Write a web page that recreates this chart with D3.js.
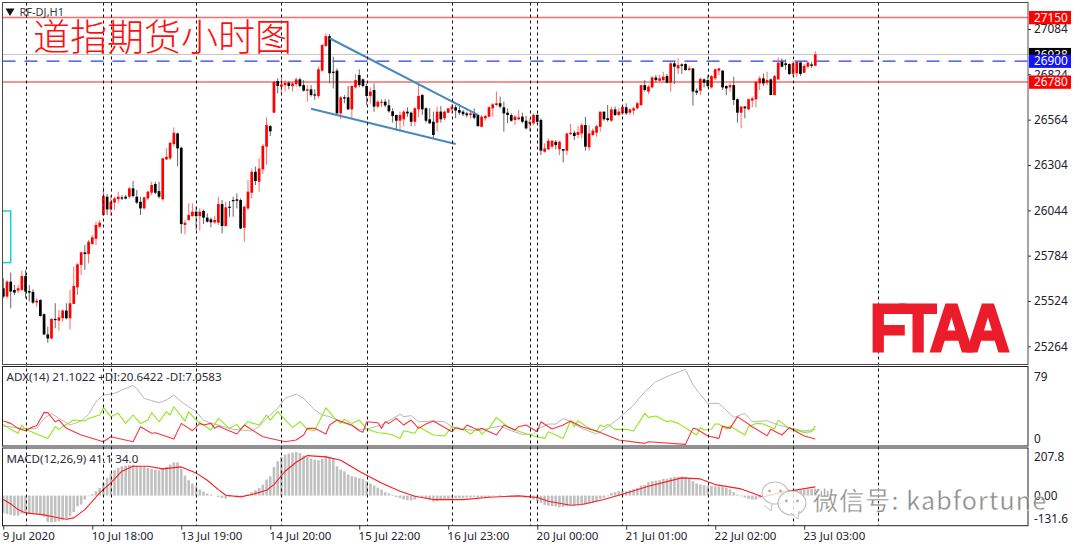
<!DOCTYPE html>
<html lang="zh">
<head>
<meta charset="utf-8">
<title>道指期货小时图</title>
<script src="https://cdn.jsdelivr.net/npm/d3@7/dist/d3.min.js"></script>
<style>
html,body{margin:0;padding:0;background:#fff;}
svg{display:block;}
text{font-family:"Noto Sans",sans-serif;}
</style>
</head>
<body>
<svg id="chart" width="1080" height="548" xmlns="http://www.w3.org/2000/svg"></svg>
<script>
// ---------- candles (prices) ----------
const opens = [25597,25549,25635,25587,25583,25587,25667,25581,25576,25515,25530,25448,25332,25309,25421,25411,25425,25469,25425,25507,25602,25731,25803,25793,25851,25881,25950,26017,26122,26049,26088,26108,26118,26122,26122,26170,26122,26093,26055,26112,26145,26195,26154,26107,26336,26342,26424,26485,26403,25960,25988,26011,26036,26011,26040,26002,25992,25975,25973,26080,25954,26065,26103,26107,26103,25944,26055,26145,26265,26208,26279,26409,26527,26604,26785,26753,26762,26776,26757,26768,26795,26762,26730,26738,26709,26700,26845,26986,27043,26839,26845,26600,26692,26692,26623,26749,26820,26795,26757,26700,26734,26639,26662,26667,26646,26612,26591,26558,26566,26610,26604,26552,26623,26705,26629,26566,26552,26547,26610,26572,26604,26623,26635,26619,26610,26600,26591,26600,26591,26523,26572,26581,26629,26648,26658,26635,26604,26591,26562,26566,26581,26558,26539,26543,26591,26562,26380,26394,26409,26437,26394,26395,26386,26481,26489,26476,26485,26533,26405,26476,26489,26523,26610,26572,26558,26623,26591,26600,26635,26604,26616,26629,26648,26762,26725,26749,26806,26787,26791,26814,26776,26887,26858,26881,26883,26849,26858,26730,26730,26795,26791,26749,26801,26845,26845,26757,26749,26762,26681,26604,26639,26623,26673,26681,26772,26801,26776,26795,26705,26795,26896,26887,26883,26826,26830,26892,26833,26868,26881,26873];
const highs = [25654,25645,25687,25616,25616,25698,25702,25616,25591,25539,25534,25453,25377,25425,25511,25473,25476,25511,25587,25721,25740,25807,25845,25874,25902,25979,25988,26179,26137,26131,26122,26151,26131,26131,26179,26212,26160,26122,26122,26156,26208,26208,26208,26345,26399,26437,26520,26489,26409,25988,26084,26084,26065,26055,26049,26027,26004,26011,26122,26103,26093,26097,26122,26141,26112,26069,26218,26284,26294,26342,26424,26577,26533,26785,26801,26810,26791,26785,26782,26806,26805,26791,26762,26762,26738,26868,26998,27059,27055,26925,26858,26700,26705,26757,26762,26826,26853,26801,26772,26749,26772,26677,26681,26681,26681,26629,26591,26610,26619,26635,26610,26635,26762,26711,26635,26629,26610,26639,26642,26616,26629,26654,26648,26654,26619,26610,26610,26629,26596,26591,26591,26642,26658,26725,26696,26667,26629,26600,26591,26619,26604,26585,26572,26600,26596,26572,26428,26457,26447,26447,26443,26395,26489,26539,26501,26527,26543,26581,26533,26514,26533,26610,26610,26648,26639,26639,26629,26648,26658,26629,26639,26667,26762,26791,26762,26814,26820,26820,26839,26826,26896,26902,26915,26887,26887,26872,26858,26743,26806,26801,26820,26820,26858,26862,26849,26762,26772,26810,26686,26642,26642,26686,26696,26785,26814,26830,26839,26801,26820,26921,26915,26910,26887,26902,26900,26896,26883,26900,26896,26957];
const lows = [25539,25539,25482,25558,25568,25583,25539,25520,25507,25488,25434,25328,25284,25304,25367,25354,25405,25419,25361,25507,25558,25673,25702,25740,25845,25845,25940,26013,26017,26011,26046,26084,26103,26107,26112,26118,26080,26017,26049,26103,26131,26137,26112,26099,26332,26332,26409,26298,25912,25906,25985,26007,25931,25927,25965,25973,25946,25965,25960,25912,25950,26007,26007,26055,25935,25864,26046,26112,26189,26151,26252,26304,26470,26600,26715,26715,26725,26738,26725,26753,26749,26725,26667,26696,26677,26686,26839,26982,26772,26743,26596,26566,26658,26619,26570,26743,26749,26749,26648,26658,26610,26629,26635,26635,26604,26547,26501,26495,26527,26581,26527,26527,26577,26591,26547,26539,26457,26495,26547,26562,26600,26600,26572,26591,26585,26577,26572,26566,26523,26520,26558,26577,26581,26642,26629,26495,26543,26552,26533,26562,26543,26508,26495,26533,26539,26361,26375,26390,26399,26394,26361,26318,26361,26476,26447,26457,26457,26386,26386,26470,26466,26495,26558,26552,26552,26585,26585,26591,26591,26591,26591,26623,26642,26725,26711,26743,26776,26776,26782,26772,26725,26768,26826,26826,26845,26845,26644,26705,26705,26749,26749,26743,26791,26820,26734,26705,26725,26648,26547,26514,26572,26619,26635,26635,26734,26757,26762,26705,26705,26791,26864,26849,26820,26810,26810,26814,26830,26858,26862,26871];
const closes = [25549,25635,25578,25572,25597,25667,25578,25572,25515,25526,25438,25332,25309,25421,25415,25430,25469,25425,25511,25610,25734,25803,25793,25864,25889,25960,25973,26126,26049,26093,26112,26122,26112,26112,26170,26126,26088,26055,26118,26151,26189,26145,26122,26342,26351,26431,26489,26399,25965,25973,26017,26036,26011,26036,26002,25979,25975,25988,26080,25954,26061,26061,26097,26099,25940,26065,26151,26265,26212,26284,26414,26533,26497,26782,26757,26766,26776,26757,26772,26795,26757,26730,26738,26705,26702,26853,26992,27043,26830,26833,26600,26692,26686,26623,26757,26791,26762,26757,26700,26725,26639,26667,26667,26646,26612,26585,26558,26591,26610,26600,26552,26629,26700,26623,26558,26543,26476,26610,26566,26610,26629,26639,26616,26604,26595,26589,26600,26575,26527,26581,26585,26635,26652,26658,26639,26600,26591,26558,26581,26577,26552,26514,26552,26591,26552,26386,26399,26443,26443,26418,26437,26386,26485,26489,26470,26493,26533,26409,26485,26501,26527,26610,26566,26562,26623,26591,26610,26639,26600,26623,26629,26658,26762,26734,26753,26806,26791,26801,26810,26776,26887,26868,26877,26873,26849,26858,26725,26719,26797,26776,26757,26814,26853,26858,26749,26743,26762,26677,26604,26639,26629,26681,26686,26782,26801,26772,26791,26705,26814,26891,26868,26877,26826,26887,26896,26826,26873,26891,26873,26938];

// ---------- price levels, separators, trend marks ----------
const priceTicks = [27084,26824,26564,26304,26044,25784,25524,25264];
const levelRed = [27150,26780];
const levelBid = 26938;
const levelBlue = 26900;
const trendUpper = [[88,27031],[128,26591]];
const trendLower = [[83,26627],[122,26424]];
const boxBars = [-2,2];
const boxPrices = [26040,25744];
const separators = [6,27,29,52,75,98,121,142,144,167,190,213,236];
const timeTickBars = [0,24,48,72,96,120,144,168,192,216];
const timeLabels = ["9 Jul 2020","10 Jul 18:00","13 Jul 19:00","14 Jul 20:00","15 Jul 22:00","16 Jul 23:00","20 Jul 00:00","21 Jul 01:00","22 Jul 02:00","23 Jul 03:00"];

// ---------- ADX(14) vertices: bar index, value ----------
const adxBars = [0,5,9,11,13,15,18,21,23,25,27,30,32,35,36,38,40,42,44,46,48,50,52,54,56,58,62,67,69,71,74,76,79,81,84,86,88,91,94,96,98,102,107,108,110,112,116,119,121,124,128,131,134,137,140,143,144,147,149,151,153,156,160,163,166,170,173,176,180,184,186,188,190,193,197,200,202,206,209,212,216,219];
const adxVals = [20.5,18.1,18.1,28.3,33.5,28.3,21.5,25.6,32.5,45.5,52.3,54,57.4,62.2,59.1,48.9,46.5,44.4,47.2,52.3,45.5,40.3,35.2,26.6,23.2,21.5,17.1,15.4,19.8,28.3,38.6,48.9,53.3,48.9,36.9,31.8,30.1,24.9,20.5,17.1,17.4,21.5,32.5,30.1,31.1,24.9,25.6,24.9,19.8,17.1,15.7,18.1,20.5,15.7,11.9,12.3,17.1,22.5,22.5,28.3,24.9,18.1,12.3,19.8,28.3,42,55.7,66,72.8,78.6,62.6,53,43.7,43.7,29.4,33.5,24.9,25.9,21.5,18.8,15.4,17.1];
const plusDiBars = [0,2,4,5,6,9,12,14,15,16,19,22,23,26,27,29,31,33,35,37,39,40,42,44,45,46,49,50,52,54,56,58,61,63,64,66,69,71,72,74,78,80,82,84,87,89,91,92,94,96,98,101,103,105,107,108,111,112,116,119,121,124,126,128,129,131,133,136,138,142,146,147,151,153,154,155,158,160,161,162,163,165,168,170,173,174,176,179,180,182,187,188,189,191,192,193,195,196,200,201,203,205,208,209,212,216,218,219];
const plusDiVals = [22.2,17.1,13,21.5,17.1,12.3,7.8,19.8,17.1,19.8,26.6,25.6,28.3,31.8,39.3,30.1,33.5,23.2,31.8,23.2,26.6,34.2,24.9,35.2,31.8,40.3,25.6,35.2,26.6,21.5,16.4,28.3,18.1,22.2,17.1,24.9,21.5,31.8,26.6,35.2,18.8,24.9,17.1,15.7,39.3,30.1,23.2,27.3,23.2,26.6,17.4,13.6,13,11.3,7.8,15.7,13,19.8,11.3,10.2,19.8,17.4,12.3,18.1,12.3,18.1,29.4,19.8,16.4,11.3,7.8,14.7,7.8,25.9,19.8,25.9,18.1,14.7,21.5,19.8,22.2,17.1,17.1,15.4,33.5,29.4,30.7,24.9,25.9,23.2,11.3,18.8,16.4,17.4,22.5,22.5,17.4,20.5,11.3,19.8,23.2,22.5,17.4,26.6,18.1,14,14.7,20.6];
const minusDiBars = [0,2,4,6,8,9,11,12,14,15,17,21,27,29,35,37,40,41,46,48,51,53,54,56,57,58,59,63,65,70,76,79,81,82,84,87,88,90,94,96,97,98,101,102,103,104,106,108,110,112,114,116,121,122,124,125,128,129,133,135,138,139,141,144,145,148,151,153,156,160,166,173,174,184,186,187,190,193,194,196,198,202,206,207,210,212,216,219];
const minusDiVals = [25.6,23.2,18.1,15.7,19.8,20.8,34.5,34.2,24.9,26.6,18.1,11.3,4.4,9.5,4.4,19.8,13,13.6,7.1,23.2,15.7,23.2,21.5,23.2,18.1,20.5,18.8,12.3,21.5,9.5,4.4,6.1,11.3,18.1,18.1,12.3,21.5,26.6,21.5,15.7,14,24.9,23.9,18.1,24.9,23.2,28.3,21.5,26.6,18.1,22.5,25.6,14.7,18.8,16.4,21.5,16.4,18.1,11.3,21.5,16.4,19.8,21.5,14.7,24.9,17.4,21.5,25.6,19.8,15.4,6.1,2.7,4.4,1.7,18.1,17.4,10.2,7.8,20.5,18.1,30.1,19.8,10.6,17.1,11.3,18.8,10.2,7.1];
const adxAxisTicks = [79,0];

// ---------- MACD(12,26,9) ----------
const macdHist = [-75.7,-80.1,-84.4,-87.4,-87.4,-78.6,-72.8,-75.7,-75.7,-78.6,-84.4,-93.2,-115,-116.5,-115,-112.1,-107.7,-99,-90.3,-72.8,-46.6,-39.3,-17.5,-2.9,5.8,18.9,33.5,55.3,77.2,96.1,110.7,120.8,128.1,131,134,134,131,128.1,125.2,120.8,116.5,113.6,110.7,119.4,125.2,135.4,145.6,145.6,116.5,87.4,67,52.4,40.8,26.2,17.5,8.7,4.4,0,-5.8,-10.2,-13.1,-5.8,0,2.9,-2.9,0,4.4,14.6,23.3,33.5,48,69.9,84.4,125.2,150,168.9,179.1,183.5,187.8,190.7,186.4,174.7,168.9,161.6,157.2,154.3,160.2,174.7,168.9,164.5,128.1,113.6,106.3,91.7,84.4,81.5,75.7,72.8,62.6,52.4,43.7,34.9,26.2,14.6,8.7,2.9,-5.8,-11.6,-17.5,-20.4,-21.8,-17.5,-2.9,-5.8,-14.6,-20.4,-26.2,-24.8,-20.4,-17.5,-14.6,-14.6,-11.6,-10.2,-11.6,-8.7,-8.7,-5.8,-8.7,-8.7,-8.7,-5.8,-2.9,0,2.9,0,-2.9,-2.9,-4.4,-1.5,-2.9,-8.7,-11.6,-17.5,-24.8,-32,-40.8,-43.7,-46.6,-48,-51,-49.5,-46.6,-43.7,-43.7,-40.8,-40.8,-39.3,-34.9,-32,-24.8,-14.6,-10.2,-2.9,11.6,14.6,20.4,20.4,18.9,23.3,29.1,33.5,43.7,46.6,58.2,62.6,65.5,67,72.8,72.8,78.6,81.5,83,83,81.5,75.7,62.6,52.4,48,45.1,43.7,42.2,40.8,39.3,37.9,33.5,26.2,14.6,4.4,-2.9,-8.7,-14.6,-17.5,-17.5,-10.2,0,7.3,8.7,-2.9,4.4,18.9,23.3,26.2,26.2,24.8,24.8,26.2,27.7,29.1,30.6];
const signalBars = [0,2,4,6,11,14,17,19,22,24,26,29,32,35,39,43,48,52,55,58,60,64,67,71,73,76,79,82,87,91,96,98,102,107,111,116,124,131,139,144,147,153,156,162,169,174,183,188,192,199,205,210,219];
const signalVals = [-17.5,-36.4,-61.2,-75.7,-84.4,-94.6,-103.4,-97.6,-61.2,-24.8,11.6,55.3,106.3,128.1,128.1,116.5,125.2,99,67,26.2,1.5,-5.8,4.4,23.3,48,106.3,145.6,174.7,168.9,154.3,106.3,88.8,55.3,18.9,-2.9,-17.5,-17.5,-7.3,-1.5,-8.7,-24.8,-42.2,-39.3,-17.5,16,40.8,77.2,72.8,48,29.1,-5.8,14.6,37.9];
const macdAxisLabels = [[207.8,"207.8"],[0,"0.00"],[-131.6,"-131.6"]];

// ---------- texts ----------
const titleText = "道指期货小时图";
const symbolText = "RF-DJ,H1";
const adxText = "ADX(14) 21.1022 +DI:20.6422 -DI:7.0583";
const macdText = "MACD(12,26,9) 41.1 34.0";
const logoText = "FTAA";
const watermarkText = "微信号: kabfortune";

// ---------- layout & scales ----------
const L = 2.5, R = 1028, mainTop = 2.5, mainBot = 364.5, adxTop = 366.5, adxBot = 446, macdTop = 448, macdBot = 525.7;
const x = d3.scaleLinear().domain([0,219]).range([3.3,815.3]);
const yP = d3.scaleLinear().domain([27084,25264]).range([29,346.3]);
const yA = d3.scaleLinear().domain([0,79]).range([446,369]);
const yM = d3.scaleLinear().domain([-131.6,207.8]).range([525.7,448]);

const svg = d3.select("#chart");
svg.append("rect").attr("width",1080).attr("height",548).attr("fill","#fff");
const defs = svg.append("defs");
[["clipMain",mainTop,mainBot],["clipAdx",adxTop,adxBot],["clipMacd",macdTop,macdBot]].forEach(([id,t,b])=>{
  defs.append("clipPath").attr("id",id).append("rect").attr("x",L).attr("y",t).attr("width",R-L).attr("height",b-t);
});
const gMain = svg.append("g").attr("clip-path","url(#clipMain)");
const gAdx = svg.append("g").attr("clip-path","url(#clipAdx)");
const gMacd = svg.append("g").attr("clip-path","url(#clipMacd)");

// period separators run through all panes
svg.append("g").selectAll("line").data(separators).join("line")
  .attr("x1",d=>Math.round(x(d))+0.5).attr("x2",d=>Math.round(x(d))+0.5)
  .attr("y1",mainTop).attr("y2",macdBot)
  .attr("stroke","#111").attr("stroke-width",1).attr("stroke-dasharray","3,3");

// horizontal levels
gMain.append("g").selectAll("line").data(levelRed).join("line")
  .attr("x1",L).attr("x2",R).attr("y1",d=>yP(d)).attr("y2",d=>yP(d))
  .attr("stroke","#ff6a6a").attr("stroke-width",1.5);
gMain.append("line").attr("x1",L).attr("x2",R).attr("y1",yP(levelBid)).attr("y2",yP(levelBid))
  .attr("stroke","#c4c4c4").attr("stroke-width",1);
gMain.append("line").attr("x1",L).attr("x2",R).attr("y1",yP(levelBlue)).attr("y2",yP(levelBlue))
  .attr("stroke","#2a3cf0").attr("stroke-width",1.1).attr("stroke-dasharray","13,9");

// cyan box
gMain.append("rect").attr("x",x(boxBars[0])).attr("y",yP(boxPrices[0]))
  .attr("width",x(boxBars[1])-x(boxBars[0])).attr("height",yP(boxPrices[1])-yP(boxPrices[0]))
  .attr("fill","none").attr("stroke","#19d3da").attr("stroke-width",1.5);

// candles
const idx = d3.range(opens.length);
const isUp = i => closes[i] >= opens[i];
const gC = gMain.append("g");
gC.selectAll("line").data(idx).join("line")
  .attr("x1",i=>x(i)).attr("x2",i=>x(i))
  .attr("y1",i=>yP(highs[i])).attr("y2",i=>yP(lows[i]))
  .attr("stroke",i=>isUp(i)?"#ff6a6a":"#666").attr("stroke-width",1);
gC.selectAll("rect").data(idx).join("rect")
  .attr("x",i=>x(i)-1.35).attr("width",2.7)
  .attr("y",i=>yP(Math.max(opens[i],closes[i])))
  .attr("height",i=>Math.max(1.2,Math.abs(yP(opens[i])-yP(closes[i]))))
  .attr("fill",i=>isUp(i)?"#ff0000":"#000");

// trend lines
[trendUpper,trendLower].forEach(t=>{
  gMain.append("line").attr("x1",x(t[0][0])).attr("y1",yP(t[0][1])).attr("x2",x(t[1][0])).attr("y2",yP(t[1][1]))
    .attr("stroke","#4a88bd").attr("stroke-width",2);
});

// line helper
function drawLine(g,bars,vals,y,color,w,op){
  const ln = d3.line().x(d=>x(d[0])).y(d=>y(d[1]));
  g.append("path").attr("d",ln(d3.zip(bars,vals))).attr("fill","none")
    .attr("stroke",color).attr("stroke-width",w).attr("stroke-opacity",op).attr("stroke-linejoin","round");
}
// ADX pane
drawLine(gAdx,adxBars,adxVals,yA,"#b8b8b8",1,1);
drawLine(gAdx,plusDiBars,plusDiVals,yA,"#8fe81a",1.1,1);
drawLine(gAdx,minusDiBars,minusDiVals,yA,"#f8202a",1.1,0.9);

// MACD pane
gMacd.append("g").selectAll("rect").data(idx).join("rect")
  .attr("x",i=>x(i)-1.3).attr("width",2.6)
  .attr("y",i=>Math.min(yM(0),yM(macdHist[i])))
  .attr("height",i=>Math.abs(yM(macdHist[i])-yM(0)))
  .attr("fill","#c0c0c0");
drawLine(gMacd,signalBars,signalVals,yM,"#ff1a1a",1.1,1);

// pane frames
[[mainTop,mainBot],[adxTop,adxBot],[macdTop,macdBot]].forEach(([t,b],k)=>{
  svg.append("rect").attr("x",L).attr("y",t).attr("width",R-L).attr("height",b-t)
    .attr("fill","none").attr("stroke",k===0?"#4a4a4a":"#222").attr("stroke-width",1);
});

// axes
const tickColor = "#22222c", fs = 11.8;
function styleAxis(g){
  g.select(".domain").remove();
  g.selectAll(".tick line").attr("stroke","#333");
  g.selectAll(".tick text").attr("fill",tickColor).attr("font-size",fs).attr("font-family",'"Noto Sans",sans-serif');
}
const axP = svg.append("g").attr("transform",`translate(${R},0)`)
  .call(d3.axisRight(yP).tickValues(priceTicks).tickSize(3).tickPadding(3).tickFormat(d3.format("d"))).call(styleAxis);
const axA = svg.append("g").attr("transform",`translate(${R},0)`)
  .call(d3.axisRight(yA).tickValues(adxAxisTicks).tickSize(0).tickPadding(6).tickFormat(d3.format("d"))).call(styleAxis);
axA.selectAll(".tick text").attr("dy",d=>d===79?"0.95em":"-0.3em");
const axM = svg.append("g").attr("transform",`translate(${R},0)`)
  .call(d3.axisRight(yM).tickValues(macdAxisLabels.map(d=>d[0])).tickSize(0).tickPadding(6)
    .tickFormat(d=>macdAxisLabels.find(e=>e[0]===d)[1])).call(styleAxis);
axM.selectAll(".tick text").attr("dy",d=>d===207.8?"1.1em":d===0?"0.32em":"-0.3em");
const axT = svg.append("g").attr("transform",`translate(0,${macdBot})`)
  .call(d3.axisBottom(x).tickValues(timeTickBars).tickSize(4).tickPadding(2)
    .tickFormat(d=>timeLabels[timeTickBars.indexOf(d)])).call(styleAxis);
axT.selectAll(".tick text").attr("text-anchor","start").attr("dx","-0.1em").attr("font-size",11.5);

// price flags
function flag(val,bg,yTop,h){
  svg.append("rect").attr("x",1029).attr("y",yTop).attr("width",42).attr("height",h).attr("fill",bg);
  svg.append("text").attr("x",1034).attr("y",yTop+h/2).attr("dy","0.36em")
    .attr("fill","#fff").attr("font-size",fs).text(val);
}
flag(levelBid,"#000",yP(levelBid)-6.5,13);
flag(levelBlue,"#1414ff",yP(levelBlue)-6.5,13.3);
levelRed.forEach(v=>flag(v,"#ff0000",yP(v)-6.5,13.3));

// text labels
svg.append("path").attr("d",d3.symbol().type(d3.symbolTriangle).size(34)()).attr("transform","translate(10,11) rotate(180)").attr("fill","#111");
svg.append("text").attr("x",19.5).attr("y",15.5).attr("font-size",11).attr("fill","#3a3a44").text(symbolText);
svg.append("text").attr("x",6.5).attr("y",381).attr("font-size",11.6).attr("fill","#2b2b35").text(adxText);
svg.append("text").attr("x",6.5).attr("y",463).attr("font-size",11.6).attr("fill","#2b2b35").text(macdText);
svg.append("text").attr("x",33).attr("y",51).attr("font-size",37)
  .style("font-family",'"Noto Sans CJK SC",sans-serif').attr("font-weight",300)
  .attr("fill","#ff1010").text(titleText);

// FTAA logo
svg.append("text").attr("transform","translate(870,351) scale(0.9,1)").attr("font-size",66)
  .style("font-family",'"Liberation Sans",Arial,sans-serif').style("font-kerning","none").attr("font-weight",700)
  .attr("letter-spacing",-7)
  .attr("fill","#ec1c2b").attr("stroke","#ec1c2b").attr("stroke-width",3).attr("stroke-linejoin","miter").text(logoText);

// WeChat watermark
const wm = svg.append("g");
function bubble(cx,cy,rx,ry,tx,ty){
  wm.append("ellipse").attr("cx",cx).attr("cy",cy).attr("rx",rx).attr("ry",ry)
    .attr("fill","rgba(255,255,255,.8)").attr("stroke","#c0c0c0").attr("stroke-width",1.2);
  wm.append("path").attr("d",`M${tx-7},${ty-6}L${tx},${ty}L${tx+1},${ty-8}`)
    .attr("fill","rgba(255,255,255,.8)").attr("stroke","#c0c0c0").attr("stroke-width",1);
  [-5.5,5.5].forEach(d=>wm.append("circle").attr("cx",cx+d).attr("cy",cy-2).attr("r",1.4).attr("fill","#b0b0b0"));
}
bubble(775,493,13,11,771,511);
bubble(792,503,14,12,798,519);
wm.append("text").attr("x",813).attr("y",510).attr("font-size",25).attr("letter-spacing",1.15)
  .style("font-family",'"Noto Sans CJK SC",sans-serif')
  .attr("fill","rgba(115,115,115,.82)").attr("stroke","#fff").attr("stroke-width",.3)
  .text(watermarkText);
</script>
</body>
</html>
